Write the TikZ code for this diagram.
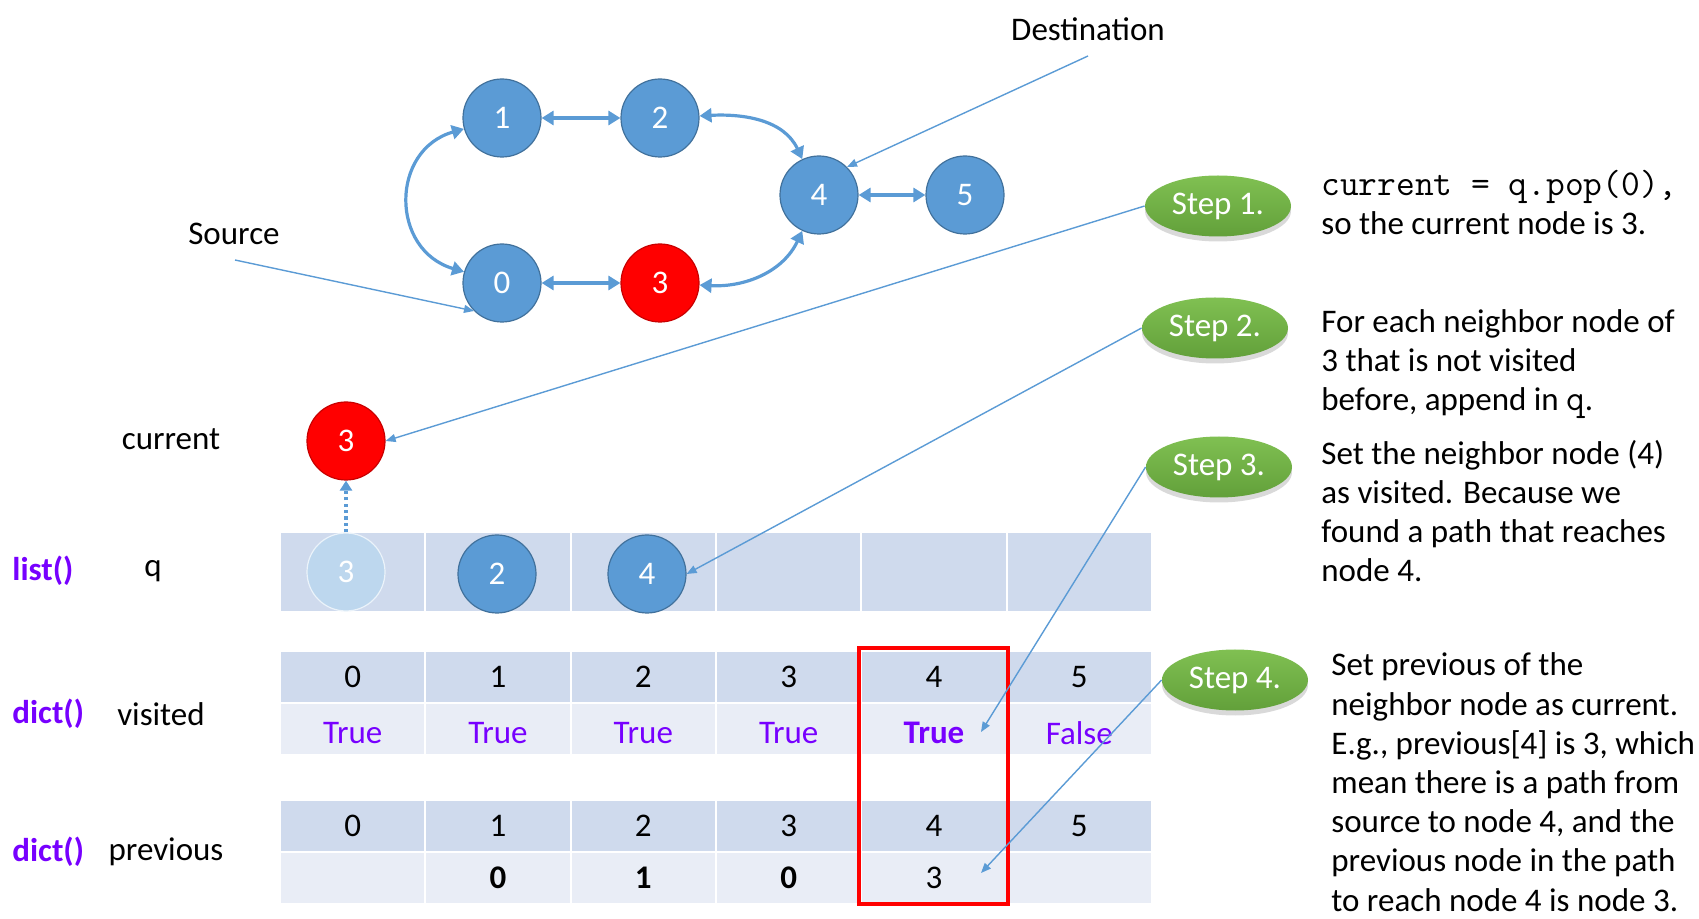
\documentclass[tikz,border=0pt]{standalone}
\usepackage{fontspec}
\setmainfont{Carlito}
\usetikzlibrary{arrows.meta,shadows,shapes.geometric}
\definecolor{nblue}{RGB}{91,155,213}
\definecolor{nborder}{RGB}{65,113,156}
\definecolor{lblue}{RGB}{189,215,238}
\definecolor{cellA}{RGB}{207,218,237}
\definecolor{cellB}{RGB}{233,237,246}
\definecolor{vio}{RGB}{119,0,255}
\definecolor{gtop}{RGB}{128,192,82}
\definecolor{gbot}{RGB}{98,160,58}
\definecolor{rborder}{RGB}{200,0,0}
\begin{document}
\begin{tikzpicture}[x=0.5pt,y=-0.5pt,
  every node/.style={font=\fontsize{16.5}{19.6}\selectfont},
  gnode/.style={circle, draw=nborder, fill=nblue, text=white, minimum size=39pt, inner sep=0pt, line width=0.6pt},
  rnode/.style={gnode, fill=red, draw=rborder},
  fnode/.style={gnode, fill=lblue, draw=white!70!lblue},
  edge/.style={draw=nblue, line width=1.6pt, {Triangle[length=6pt,width=7pt]}-{Triangle[length=6pt,width=7pt]}},
  ptr/.style={draw=nblue, line width=0.7pt, -{Triangle[length=5pt,width=4pt]}},
  stepbox/.style={ellipse, top color=gtop, bottom color=gbot, draw=none, text=white, minimum width=73pt, minimum height=30.5pt, inner sep=0pt, drop shadow={shadow xshift=0pt, shadow yshift=-2.5pt, opacity=0.3}},
  qcell/.style={draw=white, line width=1pt, fill=cellA, minimum width=72.67pt, minimum height=40pt, inner sep=0pt},
  hcell/.style={draw=white, line width=1pt, fill=cellA, minimum width=72.67pt, minimum height=26pt, inner sep=0pt},
  vcell/.style={draw=white, line width=1pt, fill=cellB, minimum width=72.67pt, minimum height=25.75pt, inner sep=0pt},
  lbl/.style={anchor=west, inner sep=0pt, font=\fontsize{16.5}{19.6}\selectfont\bfseries, text=vio},
  para/.style={anchor=base west, align=left, inner sep=0pt}
]
\useasboundingbox (0,0) rectangle (1699,919);

% graph
\node[gnode] (n1) at (502,118) {1};
\node[gnode] (n2) at (660,118) {2};
\node[gnode] (n4) at (819,195) {4};
\node[gnode] (n5) at (965,195) {5};
\node[gnode] (n0) at (502,283) {0};
\node[rnode] (n3) at (660,283) {3};
\draw[edge] (n1) -- (n2);
\draw[edge] (n2) to[out=3,in=115] (n4);
\draw[edge] (n3) to[out=-3,in=-115] (n4);
\draw[edge] (n4) -- (n5);
\draw[edge] (n0) -- (n3);
\draw[edge] (n1) .. controls (390,150) and (390,250) .. (n0);

\node (dst) at (1088,29) {Destination};
\coordinate (dstA) at (1088,56);
\draw[ptr] (dstA) -- (n4.45);
\node (src) at (234,234) {Source};
\coordinate (srcA) at (235,260);
\draw[ptr] (srcA) -- (n0.225);

% left labels
\node (curl) at (171,439) {current};
\node[lbl] (l1) at (12,571) {list()};
\node (ql) at (153,571) {q};
\node[lbl] (d1) at (12,714) {dict()};
\node (vl) at (161,714) {visited};
\node[lbl] (d2) at (12,852) {dict()};
\node (pl) at (166,852) {previous};

% tables
\foreach \i in {0,...,5} {
  \node[qcell] (qc\i) at ({352.67+145.33*\i},572) {};
  \node[hcell] (vh\i) at ({352.67+145.33*\i},677) {\i};
  \node[vcell] (vv\i) at ({352.67+145.33*\i},729) {};
  \node[hcell] (ph\i) at ({352.67+145.33*\i},826) {\i};
  \node[vcell] (pv\i) at ({352.67+145.33*\i},878) {};
}
\foreach \i/\t in {0/True,1/True,2/True,3/True,4/\textbf{True},5/False} {
  \node[text=vio, yshift=-2pt] (vt\i) at (vv\i) {\t};
}
\foreach \i/\t in {1/\textbf{0},2/\textbf{1},3/\textbf{0},4/3} {
  \node (pt\i) at (pv\i) {\t};
}

% queue nodes and current
\node[rnode] (cur) at (346,441) {3};
\node[fnode] (q3) at (346,572) {3};
\node[gnode] (q2) at (497,574) {2};
\node[gnode] (q4) at (647,574) {4};
\draw[draw=nblue, line width=1.6pt, dash pattern=on 1.6pt off 1.6pt, -{Triangle[length=5pt,width=6pt]}] (q3.north) -- (cur.south);

% red highlight
\draw[red, line width=2pt] (859,648) rectangle (1008,904);

% steps
\node[stepbox] (s1) at (1218,206) {Step 1.};
\node[stepbox] (s2) at (1215,328) {Step 2.};
\node[stepbox] (s3) at (1219,467) {Step 3.};
\node[stepbox] (s4) at (1235,680) {Step 4.};
\coordinate (t3) at (981,732);
\coordinate (t4) at (981,873);
\draw[ptr] (s1.west) -- (cur.east);
\draw[ptr] (s2.west) -- (q4.east);
\draw[ptr] (s3.west) -- (t3);
\draw[ptr] (s4.west) -- (t4);

% texts
\node[anchor=west, inner sep=0pt, font=\ttfamily\fontsize{18.2}{20}\selectfont] (x1a) at (1321,187) {current = q.pop(0),};
\node[anchor=west, inner sep=0pt] (x1b) at (1321,223) {so the current node is 3.};
\node[para] (x2) at (1321,411) {For each neighbor node of\\3 that is not visited\\before, append in {\ttfamily\fontsize{18.2}{20}\selectfont q}.};
\node[para] (x3) at (1321,582) {Set the neighbor node (4)\\as visited. Because we\\found a path that reaches\\node 4.};
\node[para] (x4) at (1331,911) {Set previous of the\\neighbor node as current.\\E.g., previous[4] is 3, which\\mean there is a path from\\source to node 4, and the\\previous node in the path\\to reach node 4 is node 3.};
\end{tikzpicture}
\end{document}
